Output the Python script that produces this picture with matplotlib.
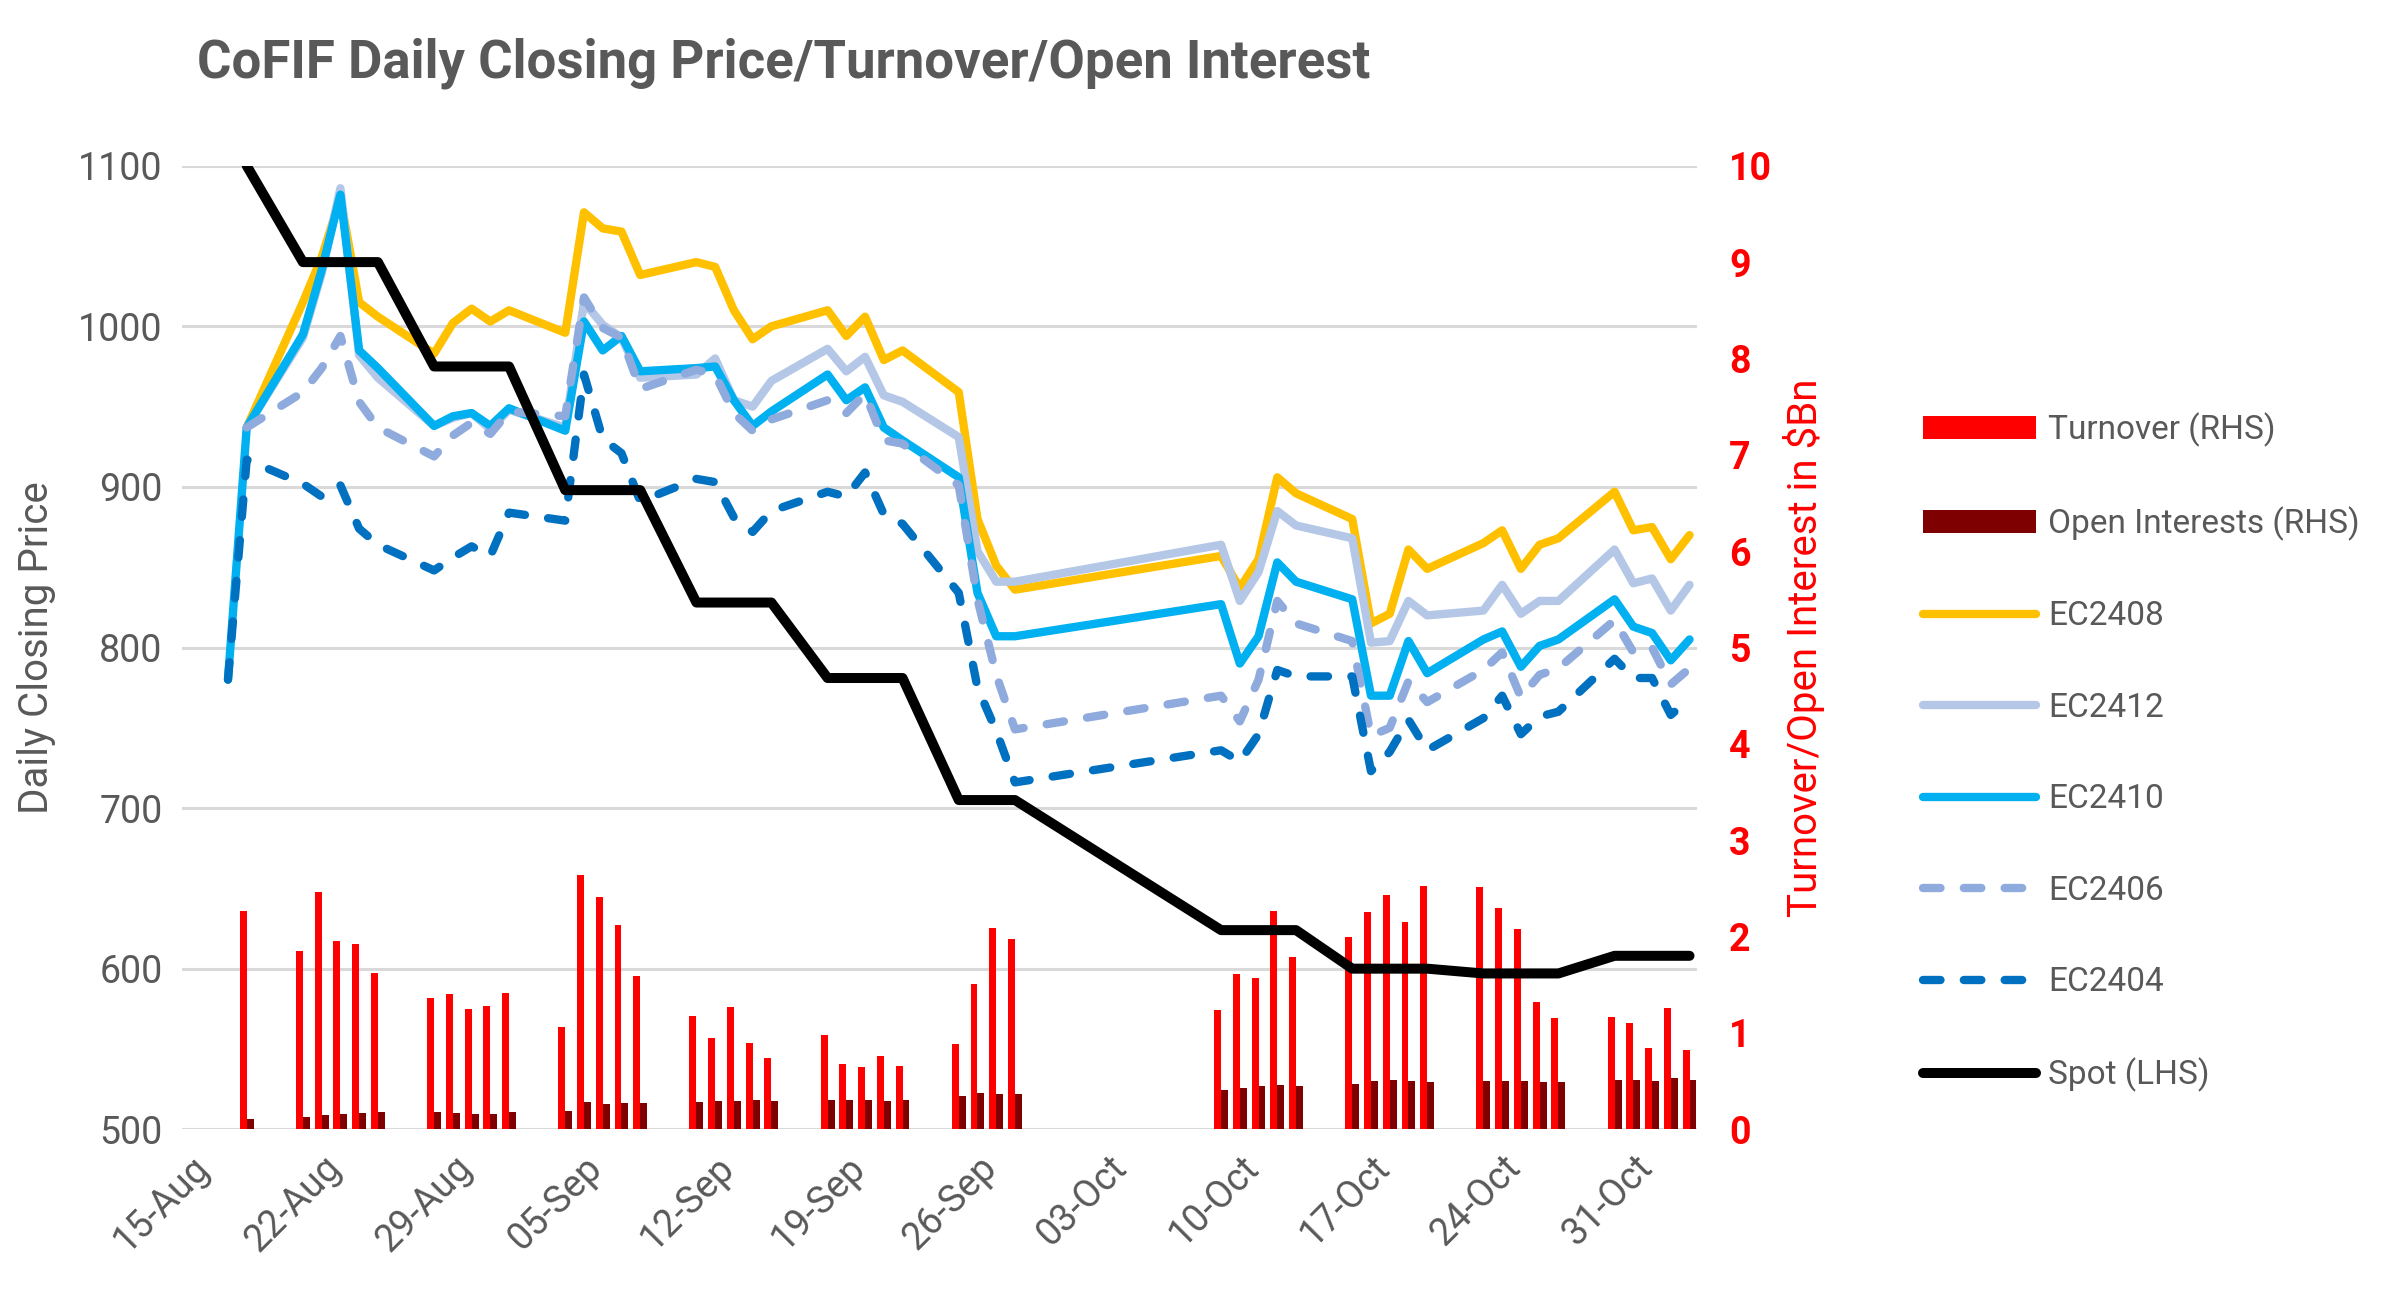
import matplotlib
matplotlib.use("Agg")
import matplotlib.pyplot as plt
import matplotlib.dates as mdates
import numpy as np

# 交易日 (2023), 第一天只有 EC2410/EC2404 的挂牌基准价
dates = np.array([
    "2023-08-17", "2023-08-18",
    "2023-08-21", "2023-08-22", "2023-08-23", "2023-08-24", "2023-08-25",
    "2023-08-28", "2023-08-29", "2023-08-30", "2023-08-31", "2023-09-01",
    "2023-09-04", "2023-09-05", "2023-09-06", "2023-09-07", "2023-09-08",
    "2023-09-11", "2023-09-12", "2023-09-13", "2023-09-14", "2023-09-15",
    "2023-09-18", "2023-09-19", "2023-09-20", "2023-09-21", "2023-09-22",
    "2023-09-25", "2023-09-26", "2023-09-27", "2023-09-28",
    "2023-10-09", "2023-10-10", "2023-10-11", "2023-10-12", "2023-10-13",
    "2023-10-16", "2023-10-17", "2023-10-18", "2023-10-19", "2023-10-20",
    "2023-10-23", "2023-10-24", "2023-10-25", "2023-10-26", "2023-10-27",
    "2023-10-30", "2023-10-31", "2023-11-01", "2023-11-02", "2023-11-03",
], dtype="datetime64[D]")

nan = np.nan

turnover = [nan, 2.26,
            1.85, 2.46, 1.95, 1.92, 1.62,
            1.36, 1.40, 1.25, 1.28, 1.41,
            1.06, 2.64, 2.41, 2.12, 1.59,
            1.18, 0.95, 1.27, 0.89, 0.74,
            0.98, 0.68, 0.65, 0.76, 0.66,
            0.88, 1.51, 2.09, 1.97,
            1.24, 1.61, 1.57, 2.26, 1.79,
            2.00, 2.25, 2.43, 2.15, 2.52,
            2.51, 2.30, 2.08, 1.32, 1.15,
            1.17, 1.10, 0.84, 1.26, 0.82]

open_interest = [nan, 0.11,
                 0.13, 0.15, 0.16, 0.17, 0.18,
                 0.18, 0.17, 0.16, 0.16, 0.18,
                 0.19, 0.28, 0.26, 0.27, 0.27,
                 0.28, 0.29, 0.29, 0.30, 0.29,
                 0.30, 0.30, 0.30, 0.29, 0.30,
                 0.34, 0.38, 0.37, 0.37,
                 0.41, 0.43, 0.45, 0.46, 0.45,
                 0.47, 0.50, 0.51, 0.50, 0.49,
                 0.50, 0.50, 0.50, 0.49, 0.49,
                 0.51, 0.51, 0.50, 0.53, 0.51]

ec2408 = [nan, 937,
          1015, 1043, 1080, 1015, 1006,
          983, 1002, 1011, 1003, 1010,
          996, 1071, 1061, 1059, 1032,
          1040, 1037, 1010, 992, 1000,
          1010, 994, 1006, 979, 985,
          959, 880, 851, 836,
          857, 837, 855, 906, 896,
          880, 815, 821, 861, 849,
          865, 873, 849, 864, 868,
          897, 873, 875, 855, 870]

ec2412 = [nan, 937,
          993, 1033, 1086, 982, 968,
          938, 943, 946, 936, 948,
          937, 1015, 1001, 993, 968,
          970, 980, 954, 950, 966,
          986, 972, 981, 957, 953,
          931, 860, 841, 841,
          864, 829, 847, 885, 876,
          868, 803, 804, 829, 820,
          823, 839, 821, 829, 829,
          861, 840, 843, 823, 839]

ec2410 = [780, 937,
          995, 1035, 1082, 985, 974,
          938, 944, 946, 938, 949,
          935, 1003, 985, 994, 972,
          974, 975, 954, 938, 947,
          970, 954, 962, 937, 929,
          906, 834, 807, 807,
          827, 790, 807, 853, 841,
          830, 770, 770, 804, 784,
          805, 810, 788, 801, 805,
          830, 813, 809, 792, 805]

ec2406 = [nan, 937,
          959, 974, 994, 953, 937,
          919, 932, 940, 933, 947,
          944, 1018, 999, 993, 961,
          973, 970, 946, 935, 942,
          954, 946, 958, 929, 927,
          901, 830, 783, 749,
          770, 754, 780, 829, 815,
          804, 745, 750, 779, 766,
          786, 797, 769, 783, 787,
          817, 797, 800, 777, 787]

ec2404 = [780, 917,
          902, 894, 901, 874, 864,
          848, 856, 863, 857, 884,
          879, 970, 930, 921, 891,
          905, 903, 881, 872, 885,
          897, 894, 909, 883, 877,
          834, 775, 748, 716,
          736, 729, 746, 786, 782,
          782, 723, 735, 755, 736,
          756, 770, 746, 757, 760,
          793, 781, 781, 758, 768]

spot = [nan, 1100,
        1040, 1040, 1040, 1040, 1040,
        975, 975, 975, 975, 975,
        898, 898, 898, 898, 898,
        828, 828, 828, 828, 828,
        781, 781, 781, 781, 781,
        705, 705, 705, 705,
        624, 624, 624, 624, 624,
        600, 600, 600, 600, 600,
        597, 597, 597, 597, 597,
        608, 608, 608, 608, 608]

tick_dates = np.arange(np.datetime64("2023-08-15"), np.datetime64("2023-11-04"), 7)

GREY = "#595959"
plt.rcParams['font.family'] = ['Roboto', 'DejaVu Sans']


def main():
    fig = plt.figure(figsize=(24.02, 12.95), dpi=100)
    rect = [0.0758, 0.128, 0.6307, 0.744]
    ax = fig.add_axes(rect)       # 左轴 + 网格
    ax2 = ax.twinx()              # 右轴: 柱
    ax3 = ax.twinx()              # 折线画在最上层

    x = mdates.date2num(dates)

    # 柱状图 (RHS)
    bw = 0.37
    b1 = ax2.bar(x - bw / 2, turnover, width=bw, color="#FF0000", label="Turnover (RHS)")
    b2 = ax2.bar(x + bw / 2, open_interest, width=bw, color="#7F0000", label="Open Interests (RHS)")

    # 折线 (LHS)
    lw = 6.0
    dash = (2.1, 2.8)
    l1, = ax3.plot(x, ec2408, color="#FFC000", lw=lw, solid_capstyle="round", label="EC2408")
    l2, = ax3.plot(x, ec2412, color="#B4C7E7", lw=lw, solid_capstyle="round", label="EC2412")
    l3, = ax3.plot(x, ec2410, color="#00B0F0", lw=lw, solid_capstyle="round", label="EC2410")
    l4, = ax3.plot(x, ec2406, color="#8FAADC", lw=lw, dashes=dash,
                   dash_capstyle="round", label="EC2406")
    l5, = ax3.plot(x, ec2404, color="#0070C0", lw=lw, dashes=dash,
                   dash_capstyle="round", label="EC2404")
    l6, = ax3.plot(x, spot, color="black", lw=7.2, solid_capstyle="round", label="Spot (LHS)")

    xmin = mdates.date2num(np.datetime64("2023-08-18")) - 3.45
    xmax = mdates.date2num(np.datetime64("2023-11-03")) + 0.4
    for a in (ax, ax2, ax3):
        a.set_xlim(xmin, xmax)
        for s in a.spines.values():
            s.set_visible(False)
        a.tick_params(length=0)

    ax.set_ylim(500, 1100)
    ax3.set_ylim(500, 1100)
    ax2.set_ylim(0, 10)
    ax.set_yticks(np.arange(500, 1101, 100))
    ax2.set_yticks(np.arange(0, 11, 1))
    ax3.set_yticks([])
    ax3.patch.set_visible(False)
    ax2.patch.set_visible(False)

    ax.grid(axis="y", color="#D9D9D9", lw=2.2)
    ax.set_axisbelow(True)

    ax.set_xticks(mdates.date2num(tick_dates))
    ax.xaxis.set_major_formatter(mdates.DateFormatter("%d-%b"))
    for lab in ax.get_xticklabels():
        lab.set_rotation(45)
        lab.set_ha("right")
        lab.set_rotation_mode("anchor")
    ax.tick_params(axis="x", labelsize=27, colors=GREY, pad=14)
    ax.tick_params(axis="y", labelsize=27, colors=GREY, pad=14)
    ax2.tick_params(axis="y", labelsize=27, colors="#FF0000", pad=23)
    for lab in ax2.get_yticklabels():
        lab.set_fontweight("bold")

    ax.set_ylabel("Daily Closing Price", fontsize=29, color=GREY, labelpad=16)
    ax2.set_ylabel("Turnover/Open Interest in $Bn", fontsize=29, color="#FF0000", labelpad=8)

    fig.text(0.082, 0.9405, "CoFIF Daily Closing Price/Turnover/Open Interest",
             fontsize=38, fontweight="bold", color=GREY, ha="left", va="baseline")

    handles = [b1, b2, l1, l2, l3, l4, l5, l6]
    labels = [h.get_label() for h in handles]
    fig.legend(handles, labels, loc="upper left", bbox_to_anchor=(0.795, 0.692),
               frameon=False, fontsize=24, labelcolor=GREY, handlelength=3.4,
               handletextpad=0.35, labelspacing=1.785, borderaxespad=0)

    fig.savefig("out.png", dpi=100)


if __name__ == "__main__":
    main()
